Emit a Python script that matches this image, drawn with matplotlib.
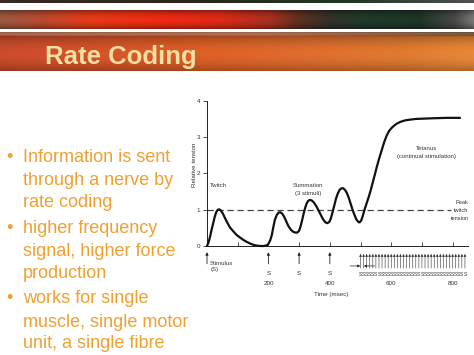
import numpy as np
import matplotlib
matplotlib.use("Agg")
import matplotlib.pyplot as plt
from matplotlib.colors import to_rgb

# ---- slide text ----
title = "Rate Coding"
bullets = [
    ["Information is sent", "through a nerve by", "rate coding"],
    ["higher frequency", "signal, higher force", "production"],
    ["works for single", "muscle, single motor", "unit, a single fibre"],
]

# ---- chart data ----
time_ms = [0, 5, 10, 15, 20, 25, 30, 35, 40, 45, 52, 59, 67, 75, 86, 97, 108, 118,
           130, 140, 152, 162, 175, 185, 195, 200, 206, 211, 216, 221, 227, 233,
           239, 245, 251, 258, 265, 273, 281, 288, 294, 300, 305, 310, 315, 320,
           325, 330, 336, 342, 348, 355, 362, 368, 374, 380, 386, 392, 398, 403,
           408, 414, 420, 426, 432, 438, 444, 450, 456, 462, 468, 474, 480, 486,
           492, 497, 502, 507, 513, 520, 527, 534, 540, 547, 553, 561, 569, 577,
           585, 593, 602, 610, 618, 630, 645, 660, 680, 710, 740, 780, 824]
tension = [0.0, 0.10, 0.26, 0.45, 0.62, 0.80, 0.93, 1.00, 1.01, 0.98, 0.89, 0.76,
           0.63, 0.51, 0.40, 0.30, 0.23, 0.17, 0.11, 0.07, 0.03, 0.01, 0.0, 0.0,
           0.02, 0.06, 0.16, 0.30, 0.52, 0.72, 0.85, 0.92, 0.93, 0.89, 0.81, 0.68,
           0.55, 0.45, 0.39, 0.37, 0.37, 0.42, 0.55, 0.72, 0.90, 1.06, 1.18, 1.25,
           1.27, 1.25, 1.20, 1.11, 1.00, 0.90, 0.80, 0.71, 0.65, 0.63, 0.66, 0.75,
           0.90, 1.10, 1.30, 1.45, 1.55, 1.59, 1.59, 1.54, 1.45, 1.32, 1.16, 1.00,
           0.86, 0.74, 0.67, 0.65, 0.70, 0.82, 1.00, 1.18, 1.36, 1.56, 1.76, 1.98,
           2.18, 2.42, 2.64, 2.86, 3.04, 3.17, 3.26, 3.32, 3.37, 3.42, 3.46, 3.48,
           3.50, 3.51, 3.52, 3.53, 3.53]

peak_twitch = 1.0
dash_span = [0, 795]
single_stim = [0, 200, 300, 400]
train_stim = [500, 510, 520, 530, 540, 550, 560, 570, 580, 590, 600, 610, 620,
              630, 640, 650, 660, 670, 680, 690, 700, 710, 720, 730, 740, 750,
              760, 770, 780, 790, 800, 810, 820, 830, 840]
xtick_pos = [100, 200, 300, 400, 500, 600, 700, 800]
xtick_lab = ["", "200", "", "400", "", "600", "", "800"]
ytick_pos = [0, 1, 2, 3, 4]

W, H = 474, 355
fig = plt.figure(figsize=(W / 100, H / 100), dpi=100)
fig.patch.set_facecolor("white")

# ---- background / header in pixel coordinates ----
bg = fig.add_axes([0, 0, 1, 1])
bg.axis("off")


def band(ax, stops, y0, y1, shade=0.15):
    xs = np.arange(W)
    pos = [s[0] for s in stops]
    cols = np.array([to_rgb(s[1]) for s in stops])
    row = np.stack([np.interp(xs, pos, cols[:, k]) for k in range(3)], axis=1)
    n = max(int(y1 - y0), 2)
    v = np.linspace(-1, 1, n)
    prof = 1 - shade * v ** 2
    img = np.clip(row[None, :, :] * prof[:, None, None], 0, 1)
    ax.imshow(img, extent=[0, W, y1, y0], aspect="auto", interpolation="bilinear", zorder=1)


band(bg, [(0, "#3a2a22"), (200, "#2c2418"), (350, "#203826"), (474, "#505050")], 0, 3, 0.0)
band(bg, [(0, "#9a5a42"), (40, "#b84a30"), (90, "#e63a18"), (160, "#f02a12"),
          (220, "#de2a18"), (270, "#a83020"), (300, "#5a3020"), (330, "#33302a"),
          (360, "#203a2a"), (420, "#1e3526"), (455, "#4a4a48"), (474, "#7a7a78")], 10, 29, 0.35)
band(bg, [(0, "#a86a50"), (250, "#b07055"), (474, "#7a5a40")], 32, 36, 0.1)
band(bg, [(0, "#cc4c2c"), (100, "#d65428"), (200, "#de6026"), (300, "#e06c2e"),
          (400, "#e07a30"), (474, "#e88838")], 36, 71, 0.25)
bg.set_xlim(0, W)
bg.set_ylim(H, 0)

bg.text(45, 64, title, fontsize=18.5, fontweight="bold", family="Liberation Sans",
        color="#f3dfa2", va="baseline", ha="left", zorder=3)

orange = "#f0a030"
baselines = [[162, 185, 207], [233, 256, 278], [303, 327, 348]]
for lines, ys in zip(bullets, baselines):
    bg.text(6, ys[0], "\u2022", fontsize=13, family="Liberation Sans",
            color=orange, va="baseline")
    for line, y in zip(lines, ys):
        bg.text(23, y, line, fontsize=13, family="Liberation Sans",
                color=orange, va="baseline")

# ---- chart ----
ax = fig.add_axes([207 / W, (H - 246) / H, 261 / W, 145.2 / H])
ax.set_facecolor("none")
ax.set_xlim(0, 850)
ax.set_ylim(0, 4)
for s in ["top", "right"]:
    ax.spines[s].set_visible(False)
for s in ["left", "bottom"]:
    ax.spines[s].set_linewidth(0.7)
    ax.spines[s].set_color("#222222")

small = dict(family=["Liberation Sans Narrow", "Liberation Sans", "DejaVu Sans"],
             color="#333333")

ax.set_yticks(ytick_pos)
ax.set_yticklabels([str(v) for v in ytick_pos], fontsize=4.5, **small)
ax.tick_params(axis="y", length=3, width=0.6, pad=2, colors="#333333")
ax.set_xticks(xtick_pos)
ax.set_xticklabels([])
ax.tick_params(axis="x", direction="in", length=3, width=0.6, colors="#333333")

ax.plot(time_ms, tension, color="#111111", lw=1.6, solid_capstyle="round",
        clip_on=False, zorder=3)
ax.plot(dash_span, [peak_twitch, peak_twitch], color="#444444", lw=0.9,
        dashes=(5, 3), zorder=2)

ax.text(-40, 2.25, "Relative tension", rotation=90, ha="center", va="center",
        fontsize=4.5, **small)
ax.text(10, 1.68, "Twitch", fontsize=4.3, ha="left", va="center", **small)
ax.text(330, 1.68, "Summation", fontsize=4.3, ha="center", va="center", **small)
ax.text(330, 1.45, "(3 stimuli)", fontsize=4.3, ha="center", va="center", **small)
ax.text(716, 2.69, "Tetanus", fontsize=4.3, ha="center", va="center", **small)
ax.text(716, 2.46, "(continual stimulation)", fontsize=4.3, ha="center",
        va="center", **small)
ax.text(852, 1.21, "Peak", fontsize=4.1, ha="right", va="center", **small)
ax.text(852, 0.99, "twitch", fontsize=4.1, ha="right", va="center", **small)
ax.text(852, 0.77, "tension", fontsize=4.1, ha="right", va="center", **small)

# stimulus arrows below the axis
for t in single_stim:
    ax.annotate("", xy=(t, -0.17), xytext=(t, -0.49), annotation_clip=False,
                arrowprops=dict(arrowstyle="-|>", lw=0.6, color="#222222",
                                mutation_scale=4, shrinkA=0, shrinkB=0))
for t in single_stim[1:]:
    ax.text(t, -0.75, "S", fontsize=4.5, ha="center", va="center", clip_on=False, **small)
ax.text(10, -0.47, "Stimulus", fontsize=4.3, ha="left", va="center", clip_on=False, **small)
ax.text(24, -0.64, "(S)", fontsize=4.3, ha="center", va="center", clip_on=False, **small)

for t in train_stim:
    ax.annotate("", xy=(t, -0.22), xytext=(t, -0.61), annotation_clip=False,
                arrowprops=dict(arrowstyle="-|>", lw=0.4, color="#333333",
                                mutation_scale=3.5, shrinkA=0, shrinkB=0))
    ax.text(t, -0.78, "S", fontsize=3.5, ha="center", va="center", clip_on=False, **small)

ax.annotate("", xy=(499, -0.55), xytext=(466, -0.55), annotation_clip=False,
            arrowprops=dict(arrowstyle="-|>", lw=0.5, color="#222222",
                            mutation_scale=3.5, shrinkA=0, shrinkB=0))
ax.annotate("", xy=(511, -0.55), xytext=(546, -0.55), annotation_clip=False,
            arrowprops=dict(arrowstyle="-|>", lw=0.5, color="#222222",
                            mutation_scale=3.5, shrinkA=0, shrinkB=0))

for t, lab in zip(xtick_pos, xtick_lab):
    if lab:
        ax.text(t, -1.03, lab, fontsize=4.5, ha="center", va="center", clip_on=False, **small)
ax.text(404, -1.33, "Time (msec)", fontsize=4.5, ha="center", va="center",
        clip_on=False, **small)

fig.savefig("out.png", dpi=100)
